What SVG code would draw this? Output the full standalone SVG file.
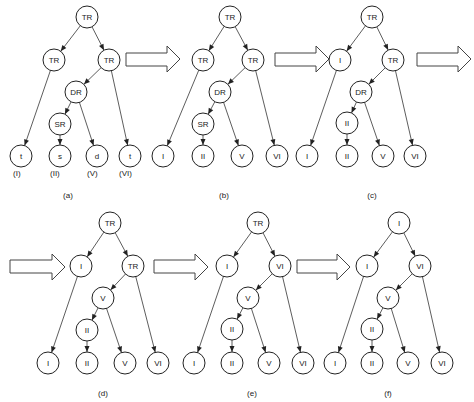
<svg xmlns="http://www.w3.org/2000/svg" width="474" height="402" viewBox="0 0 474 402">
  <style>
    .bg { fill: #ffffff; }
    .node circle { fill: #ffffff; stroke: #222222; stroke-width: 1; }
    .node text, .lbl { font-family: "Liberation Sans", Arial, sans-serif; font-size: 8px; fill: #222222; }
    .node text { text-anchor: middle; }
    .cap { font-family: "Liberation Sans", Arial, sans-serif; font-size: 8px; fill: #222222; text-anchor: middle; }
    .edges line { stroke: #333333; stroke-width: 0.8; marker-end: url(#tip); }
    .step { fill: #ffffff; stroke: #444444; stroke-width: 1; }
  </style>
  <defs>
    <!-- arrowhead stops on the rim of an r=11 circle drawn at the line end -->
    <marker id="tip" markerUnits="userSpaceOnUse" markerWidth="6" markerHeight="6" refX="17" refY="2.5" orient="auto" overflow="visible">
      <path d="M0,0 L6,2.5 L0,5 Z" fill="#222222"/>
    </marker>
  </defs>
  <rect class="bg" width="474" height="402"/>

  <!-- transformation step arrows -->
  <g id="steps">
    <path class="step" d="M126,53 H167 V46 L180,59 L167,72 V66 H126 Z"/>
    <path class="step" d="M275,53 H316 V46 L329,59 L316,72 V66 H275 Z"/>
    <path class="step" d="M417,53 H458 V46 L471,59 L458,72 V66 H417 Z"/>
    <path class="step" d="M10,260 H52 V254 L65,267 L52,280 V273 H10 Z"/>
    <path class="step" d="M154,260 H195 V254 L208,267 L195,280 V273 H154 Z"/>
    <path class="step" d="M297,260 H337 V254 L350,267 L337,280 V273 H297 Z"/>
  </g>

  <g id="connectors" class="edges">
    <!-- (a) -->
    <line x1="87" y1="17" x2="54" y2="60"/>
    <line x1="87" y1="17" x2="109" y2="60"/>
    <line x1="54" y1="60" x2="21" y2="156"/>
    <line x1="109" y1="60" x2="76" y2="92"/>
    <line x1="109" y1="60" x2="130" y2="156"/>
    <line x1="76" y1="92" x2="60" y2="124"/>
    <line x1="76" y1="92" x2="97" y2="156"/>
    <line x1="60" y1="124" x2="60" y2="156"/>
    <!-- (b) -->
    <line x1="230" y1="17" x2="203" y2="60"/>
    <line x1="230" y1="17" x2="253" y2="60"/>
    <line x1="203" y1="60" x2="163" y2="156"/>
    <line x1="253" y1="60" x2="220" y2="92"/>
    <line x1="253" y1="60" x2="277" y2="156"/>
    <line x1="220" y1="92" x2="203" y2="124"/>
    <line x1="220" y1="92" x2="242" y2="156"/>
    <line x1="203" y1="124" x2="203" y2="156"/>
    <!-- (c) -->
    <line x1="372" y1="17" x2="340" y2="60"/>
    <line x1="372" y1="17" x2="393" y2="60"/>
    <line x1="340" y1="60" x2="307" y2="156"/>
    <line x1="393" y1="60" x2="361" y2="92"/>
    <line x1="393" y1="60" x2="415" y2="156"/>
    <line x1="361" y1="92" x2="347" y2="123"/>
    <line x1="361" y1="92" x2="383" y2="156"/>
    <line x1="347" y1="123" x2="347" y2="156"/>
    <!-- (d) -->
    <line x1="110" y1="223" x2="81" y2="266"/>
    <line x1="110" y1="223" x2="133" y2="266"/>
    <line x1="81" y1="266" x2="48" y2="363"/>
    <line x1="133" y1="266" x2="103" y2="298"/>
    <line x1="133" y1="266" x2="158" y2="363"/>
    <line x1="103" y1="298" x2="87" y2="330"/>
    <line x1="103" y1="298" x2="125" y2="363"/>
    <line x1="87" y1="330" x2="87" y2="363"/>
    <!-- (e) -->
    <line x1="258" y1="223" x2="227" y2="266"/>
    <line x1="258" y1="223" x2="280" y2="266"/>
    <line x1="227" y1="266" x2="194" y2="363"/>
    <line x1="280" y1="266" x2="248" y2="298"/>
    <line x1="280" y1="266" x2="303" y2="363"/>
    <line x1="248" y1="298" x2="232" y2="329"/>
    <line x1="248" y1="298" x2="269" y2="363"/>
    <line x1="232" y1="329" x2="232" y2="363"/>
    <!-- (f) -->
    <line x1="399" y1="223" x2="367" y2="266"/>
    <line x1="399" y1="223" x2="420" y2="266"/>
    <line x1="367" y1="266" x2="335" y2="363"/>
    <line x1="420" y1="266" x2="388" y2="298"/>
    <line x1="420" y1="266" x2="442" y2="363"/>
    <line x1="388" y1="298" x2="372" y2="329"/>
    <line x1="388" y1="298" x2="408" y2="363"/>
    <line x1="372" y1="329" x2="372" y2="363"/>
  </g>

  <!-- (a) -->
  <g id="a-root" class="node" transform="translate(87,17)"><circle r="11"/><text y="3">TR</text></g>
  <g id="a-left" class="node" transform="translate(54,60)"><circle r="11"/><text y="3">TR</text></g>
  <g id="a-right" class="node" transform="translate(109,60)"><circle r="11"/><text y="3">TR</text></g>
  <g id="a-dr" class="node" transform="translate(76,92)"><circle r="11"/><text y="3">DR</text></g>
  <g id="a-sr" class="node" transform="translate(60,124)"><circle r="11"/><text y="3">SR</text></g>
  <g id="a-leaf1" class="node" transform="translate(21,156)"><circle r="11"/><text y="3">t</text></g>
  <g id="a-leaf2" class="node" transform="translate(60,156)"><circle r="11"/><text y="3">s</text></g>
  <g id="a-leaf3" class="node" transform="translate(97,156)"><circle r="11"/><text y="3">d</text></g>
  <g id="a-leaf4" class="node" transform="translate(130,156)"><circle r="11"/><text y="3">t</text></g>
  <text class="lbl" x="13" y="176">(I)</text>
  <text class="lbl" x="50" y="176">(II)</text>
  <text class="lbl" x="87" y="176">(V)</text>
  <text class="lbl" x="119" y="176">(VI)</text>
  <text class="cap" x="68" y="198">(a)</text>

  <!-- (b) -->
  <g id="b-root" class="node" transform="translate(230,17)"><circle r="11"/><text y="3">TR</text></g>
  <g id="b-left" class="node" transform="translate(203,60)"><circle r="11"/><text y="3">TR</text></g>
  <g id="b-right" class="node" transform="translate(253,60)"><circle r="11"/><text y="3">TR</text></g>
  <g id="b-dr" class="node" transform="translate(220,92)"><circle r="11"/><text y="3">DR</text></g>
  <g id="b-sr" class="node" transform="translate(203,124)"><circle r="11"/><text y="3">SR</text></g>
  <g id="b-leaf1" class="node" transform="translate(163,156)"><circle r="11"/><text y="3">I</text></g>
  <g id="b-leaf2" class="node" transform="translate(203,156)"><circle r="11"/><text y="3">II</text></g>
  <g id="b-leaf3" class="node" transform="translate(242,156)"><circle r="11"/><text y="3">V</text></g>
  <g id="b-leaf4" class="node" transform="translate(277,156)"><circle r="11"/><text y="3">VI</text></g>
  <text class="cap" x="224" y="198">(b)</text>

  <!-- (c) -->
  <g id="c-root" class="node" transform="translate(372,17)"><circle r="11"/><text y="3">TR</text></g>
  <g id="c-left" class="node" transform="translate(340,60)"><circle r="11"/><text y="3">I</text></g>
  <g id="c-right" class="node" transform="translate(393,60)"><circle r="11"/><text y="3">TR</text></g>
  <g id="c-dr" class="node" transform="translate(361,92)"><circle r="11"/><text y="3">DR</text></g>
  <g id="c-mid" class="node" transform="translate(347,123)"><circle r="11"/><text y="3">II</text></g>
  <g id="c-leaf1" class="node" transform="translate(307,156)"><circle r="11"/><text y="3">I</text></g>
  <g id="c-leaf2" class="node" transform="translate(347,156)"><circle r="11"/><text y="3">II</text></g>
  <g id="c-leaf3" class="node" transform="translate(383,156)"><circle r="11"/><text y="3">V</text></g>
  <g id="c-leaf4" class="node" transform="translate(415,156)"><circle r="11"/><text y="3">VI</text></g>
  <text class="cap" x="372" y="198">(c)</text>

  <!-- (d) -->
  <g id="d-root" class="node" transform="translate(110,223)"><circle r="11"/><text y="3">TR</text></g>
  <g id="d-left" class="node" transform="translate(81,266)"><circle r="11"/><text y="3">I</text></g>
  <g id="d-right" class="node" transform="translate(133,266)"><circle r="11"/><text y="3">TR</text></g>
  <g id="d-v" class="node" transform="translate(103,298)"><circle r="11"/><text y="3">V</text></g>
  <g id="d-mid" class="node" transform="translate(87,330)"><circle r="11"/><text y="3">II</text></g>
  <g id="d-leaf1" class="node" transform="translate(48,363)"><circle r="11"/><text y="3">I</text></g>
  <g id="d-leaf2" class="node" transform="translate(87,363)"><circle r="11"/><text y="3">II</text></g>
  <g id="d-leaf3" class="node" transform="translate(125,363)"><circle r="11"/><text y="3">V</text></g>
  <g id="d-leaf4" class="node" transform="translate(158,363)"><circle r="11"/><text y="3">VI</text></g>
  <text class="cap" x="103" y="396">(d)</text>

  <!-- (e) -->
  <g id="e-root" class="node" transform="translate(258,223)"><circle r="11"/><text y="3">TR</text></g>
  <g id="e-left" class="node" transform="translate(227,266)"><circle r="11"/><text y="3">I</text></g>
  <g id="e-right" class="node" transform="translate(280,266)"><circle r="11"/><text y="3">VI</text></g>
  <g id="e-v" class="node" transform="translate(248,298)"><circle r="11"/><text y="3">V</text></g>
  <g id="e-mid" class="node" transform="translate(232,329)"><circle r="11"/><text y="3">II</text></g>
  <g id="e-leaf1" class="node" transform="translate(194,363)"><circle r="11"/><text y="3">I</text></g>
  <g id="e-leaf2" class="node" transform="translate(232,363)"><circle r="11"/><text y="3">II</text></g>
  <g id="e-leaf3" class="node" transform="translate(269,363)"><circle r="11"/><text y="3">V</text></g>
  <g id="e-leaf4" class="node" transform="translate(303,363)"><circle r="11"/><text y="3">VI</text></g>
  <text class="cap" x="252" y="396">(e)</text>

  <!-- (f) -->
  <g id="f-root" class="node" transform="translate(399,223)"><circle r="11"/><text y="3">I</text></g>
  <g id="f-left" class="node" transform="translate(367,266)"><circle r="11"/><text y="3">I</text></g>
  <g id="f-right" class="node" transform="translate(420,266)"><circle r="11"/><text y="3">VI</text></g>
  <g id="f-v" class="node" transform="translate(388,298)"><circle r="11"/><text y="3">V</text></g>
  <g id="f-mid" class="node" transform="translate(372,329)"><circle r="11"/><text y="3">II</text></g>
  <g id="f-leaf1" class="node" transform="translate(335,363)"><circle r="11"/><text y="3">I</text></g>
  <g id="f-leaf2" class="node" transform="translate(372,363)"><circle r="11"/><text y="3">II</text></g>
  <g id="f-leaf3" class="node" transform="translate(408,363)"><circle r="11"/><text y="3">V</text></g>
  <g id="f-leaf4" class="node" transform="translate(442,363)"><circle r="11"/><text y="3">VI</text></g>
  <text class="cap" x="388" y="396">(f)</text>
</svg>
